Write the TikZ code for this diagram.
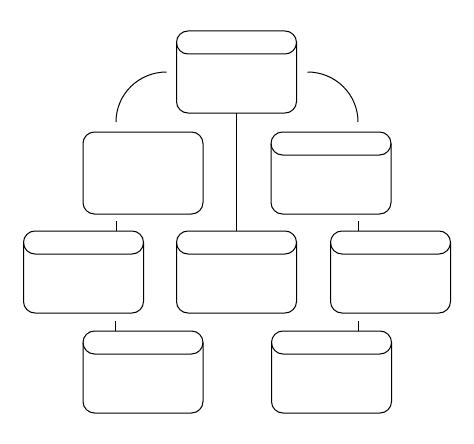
\documentclass[tikz,border=0pt]{standalone}
\tikzset{
  box/.style={draw, line width=1pt, rounded corners=11.5pt, minimum width=120pt, minimum height=82pt, inner sep=0pt, outer sep=0pt},
  conn/.style={line width=1pt}
}
\newcommand\hdrline[1]{%
  \draw[line width=1pt] ([yshift=-11.5pt]#1.north west) arc[start angle=180,end angle=270,radius=11.5pt]
    -- ([xshift=-11.5pt,yshift=-23pt]#1.north east) arc[start angle=270,end angle=360,radius=11.5pt];}
\begin{document}
\begin{tikzpicture}[x=1pt,y=-1pt]
\useasboundingbox (0,0) rectangle (474,444);
\node[box] (top) at (236.5,72) {};
\node[box] (L2) at (143,173) {};
\node[box] (R2) at (331,173) {};
\node[box] (L3) at (83.5,272) {};
\node[box] (M3) at (236.5,272) {};
\node[box] (R3) at (390.5,272) {};
\node[box] (L4) at (143,372) {};
\node[box] (R4) at (331.5,372) {};
\hdrline{top}\hdrline{R2}\hdrline{L3}\hdrline{M3}\hdrline{R3}\hdrline{L4}\hdrline{R4}
% connectors
\draw[conn] (top.south) -- (M3.north);
\coordinate (la) at ([xshift=-10pt]top.west);
\coordinate (lb) at ([xshift=-27pt,yshift=10pt]L2.north);
\coordinate (ra) at ([xshift=11pt]top.east);
\coordinate (rb) at ([xshift=27pt,yshift=10pt]R2.north);
\draw[conn] (la) to[out=180,in=90] (lb);
\draw[conn] (ra) to[out=0,in=90] (rb);
\coordinate (s1) at ([xshift=-27pt,yshift=-7pt]L2.south);
\coordinate (s2) at ([xshift=27pt,yshift=-7pt]R2.south);
\coordinate (s3) at ([xshift=31.5pt,yshift=-8pt]L3.south);
\coordinate (s4) at ([xshift=-32.5pt,yshift=-8pt]R3.south);
\draw[conn] (s1) -- (s1 |- L3.north);
\draw[conn] (s2) -- (s2 |- R3.north);
\draw[conn] (s3) -- (s3 |- L4.north);
\draw[conn] (s4) -- (s4 |- R4.north);
\end{tikzpicture}
\end{document}
